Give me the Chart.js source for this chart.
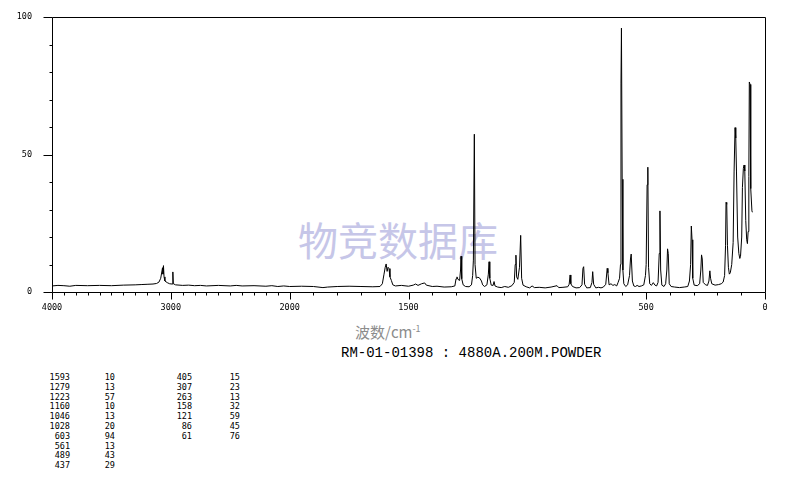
<!DOCTYPE html>
<html>
<head>
<meta charset="utf-8">
<script src="https://cdn.jsdelivr.net/npm/chart.js@4.4.1/dist/chart.umd.min.js"></script>
<style>
  body { margin: 0; background: #fff; }
  #wrap { position: relative; width: 794px; height: 482px; overflow: hidden; }
  #mark { position: absolute; left: 298px; top: 219px; font: 40px "Noto Sans CJK SC"; line-height: 40px; color: #c6c6e8; white-space: nowrap; }
  #chart { position: absolute; left: 0; top: 0; }
  #xtitle { position: absolute; left: 355px; top: 321px; font: 15px "Noto Sans CJK SC"; color: #8c8c8c; white-space: nowrap; }
  #xtitle sup { font-size: 9px; }
  #sample { position: absolute; left: 341px; top: 345px; font: 14px "Liberation Mono"; color: #000; white-space: pre; }
  .col { position: absolute; top: 373px; font: 8.5px "DejaVu Sans Mono"; line-height: 9.8px; text-align: right; white-space: pre; }
</style>
</head>
<body>
<div id="wrap">
  <div id="mark">物竞数据库</div>
  <canvas id="chart" width="794" height="320"></canvas>
  <div id="xtitle">波数/cm<sup>-1</sup></div>
  <div id="sample">RM-01-01398 : 4880A.200M.POWDER</div>
</div>
<script>
// spectrum (cm-1 / relative intensity)
const ramanShift = [
  4000, 3950, 3900, 3850, 3800, 3700, 3600, 3500, 3400, 3300, 3250, 3200, 3150, 3120, 3100,
  3085, 3070, 3066, 3062, 3057, 3050, 3030, 3010, 2990, 2983, 2979, 2960, 2900, 2850, 2800,
  2750, 2700, 2600, 2500, 2450, 2400, 2300, 2200, 2150, 2100, 2050, 2000,
  1950, 1900, 1860, 1840, 1800, 1750, 1700, 1650, 1620, 1610, 1603, 1598, 1594, 1590, 1586,
  1582, 1578, 1572, 1566, 1555, 1530, 1500, 1480, 1470, 1460, 1445, 1432, 1425, 1400, 1380,
  1350, 1320, 1305, 1300, 1296, 1292, 1285, 1281, 1279, 1276, 1270, 1260, 1245, 1235, 1230,
  1227, 1223, 1220, 1215, 1208, 1200, 1193, 1188, 1180, 1170, 1164, 1161, 1158, 1152, 1144,
  1140, 1136, 1125, 1110, 1095, 1080, 1065, 1055, 1051, 1048, 1045, 1040, 1033, 1028, 1024,
  1018, 1005, 990, 980, 970, 950, 925, 900, 875, 868, 850, 830, 824, 820, 817,
  810, 795, 780, 770, 766, 763, 759, 750, 735, 728, 725, 721, 712, 700, 690,
  680, 670, 664, 661, 656, 648, 640, 632, 624, 618, 612, 608, 606, 604, 601,
  598, 594, 586, 578, 570, 566, 563, 558, 552, 545, 538, 530, 520, 510, 503,
  500, 496, 493, 490, 485, 478, 470, 463, 456, 450, 445, 442, 439, 434, 425,
  418, 413, 410, 407, 403, 395, 380, 360, 340, 325, 318, 313, 310, 307, 304,
  298, 285, 275, 270, 267, 264, 260, 250, 242, 236, 232, 229, 224, 210, 195,
  184, 176, 170, 166, 164, 161, 158, 154, 150, 146, 140, 134, 130, 126, 123,
  120, 115, 110, 106, 103, 98, 95, 91, 88, 85, 81, 77, 74, 71, 68,
  66, 63, 61, 59, 55, 53
];
const intensity = [
  2.2, 2.4, 2.3, 2.1, 2.4, 2.3, 2.4, 2.3, 2.5, 2.6, 2.7, 2.8, 2.9, 3.1, 3.6,
  5.0, 8.8, 6.5, 9.6, 5.5, 4.0, 3.4, 3.0, 2.9, 7.3, 3.0, 2.6, 2.4, 2.5, 2.3,
  2.4, 2.2, 2.4, 2.2, 2.4, 2.2, 2.3, 2.1, 2.3, 2.0, 2.2, 2.0,
  2.1, 2.0, 1.6, 1.8, 2.0, 2.1, 2.0, 1.9, 2.0, 3.0, 6.5, 9.0, 10.2, 7.5, 9.0,
  8.5, 5.5, 4.2, 2.6, 2.2, 2.4, 2.1, 2.5, 2.9, 2.4, 3.0, 3.3, 2.5, 2.0, 2.1,
  1.8, 1.9, 2.2, 4.8, 5.5, 4.6, 4.2, 8.0, 13.0, 4.8, 2.6, 2.0, 1.9, 2.6, 6.0,
  11.6, 57.4, 10.0, 5.0, 5.4, 5.0, 4.0, 2.6, 2.0, 2.6, 6.5, 11.0, 5.0, 2.5, 2.4,
  3.8, 2.2, 1.8, 1.6, 2.0, 1.7, 2.3, 3.5, 10.0, 13.4, 5.5, 4.6, 9.0, 20.6, 5.0,
  2.5, 1.9, 1.5, 2.2, 1.6, 1.7, 1.5, 1.8, 2.3, 1.6, 1.7, 1.9, 2.8, 6.2, 3.0,
  2.0, 1.5, 1.6, 2.6, 8.6, 9.2, 2.8, 1.5, 1.6, 3.5, 7.4, 2.8, 1.5, 1.7, 1.5,
  1.8, 2.8, 8.6, 7.0, 2.6, 3.0, 2.4, 2.7, 2.2, 3.5, 5.0, 10.0, 76.0, 96.0, 41.0,
  8.0, 3.0, 2.0, 2.6, 6.0, 12.0, 13.8, 4.0, 2.2, 2.0, 2.4, 2.0, 2.2, 2.6, 6.0,
  10.0, 39.0, 45.4, 9.0, 3.0, 2.4, 3.4, 2.5, 2.2, 3.5, 14.0, 29.5, 8.0, 2.5, 2.0,
  3.0, 8.0, 15.7, 14.0, 3.0, 2.0, 1.8, 1.6, 1.8, 2.0, 4.0, 10.0, 24.0, 19.0, 5.0,
  2.5, 2.3, 3.0, 8.0, 13.5, 12.0, 3.5, 2.6, 2.4, 4.0, 7.7, 5.0, 3.0, 2.5, 2.7,
  3.0, 3.6, 6.0, 17.0, 32.6, 31.9, 17.0, 9.0, 6.5, 7.0, 10.0, 18.0, 44.0, 59.8, 56.0,
  44.0, 20.0, 14.0, 12.2, 13.0, 20.0, 38.0, 45.0, 46.2, 44.0, 26.0, 19.0, 17.6, 22.0, 42.0,
  76.4, 75.5, 55.0, 37.6, 29.5, 29.0
];

// peak table printed under the chart
const peakShift = [1593, 1279, 1223, 1160, 1046, 1028, 603, 561, 489, 437, 405, 307, 263, 158, 121, 86, 61];
const peakIntensity = [10, 13, 57, 10, 13, 20, 94, 13, 43, 29, 15, 23, 13, 32, 59, 45, 76];

const xTickLabels = [4000, 3000, 2000, 1500, 500, 0];
const yTickLabels = [0, 50, 100];

// axis is compressed 2x above 2000 cm-1
const BREAK = 2000;
function toAxis(v) { return v <= BREAK ? v : BREAK + (v - BREAK) / 2; }
function fromAxis(u) { return u <= BREAK ? u : BREAK + (u - BREAK) * 2; }

const points = ramanShift.map((v, i) => ({ x: toAxis(v), y: intensity[i] }));

// frame + tick marks
const framePlugin = {
  id: 'frame',
  afterDraw(chart) {
    const { ctx, chartArea: a, scales: { x, y } } = chart;
    const L = Math.round(a.left) + 0.5, R = Math.round(a.right) + 0.5;
    const T = Math.round(a.top) + 0.5, B = Math.round(a.bottom) + 0.5;
    ctx.save();
    ctx.strokeStyle = '#000';
    ctx.lineWidth = 1;
    ctx.beginPath();
    ctx.rect(L, T, R - L, B - T);
    x.ticks.forEach(t => {
      const px = Math.round(x.getPixelForValue(t.value)) + 0.5;
      ctx.moveTo(px, B);
      ctx.lineTo(px, B + (t.label ? 7 : 3));
    });
    y.ticks.forEach(t => {
      const py = Math.round(y.getPixelForValue(t.value)) + 0.5;
      ctx.moveTo(L, py);
      ctx.lineTo(L - (t.label !== '' ? 9 : 3), py);
    });
    ctx.stroke();
    ctx.restore();
  }
};

new Chart(document.getElementById('chart'), {
  type: 'line',
  data: {
    datasets: [{
      data: points,
      borderColor: '#000',
      borderWidth: 1,
      pointRadius: 0,
      tension: 0,
      fill: false
    }]
  },
  options: {
    responsive: false,
    animation: false,
    layout: { padding: { left: 0, top: 16, right: 29, bottom: 0 } },
    plugins: { legend: { display: false }, tooltip: { enabled: false } },
    scales: {
      x: {
        type: 'linear',
        reverse: true,
        min: 0,
        max: toAxis(4000),
        grid: { display: false },
        border: { display: false },
        afterBuildTicks: s => {
          const t = [];
          for (let v = 0; v <= 4000; v += 100) t.push({ value: toAxis(v) });
          s.ticks = t;
        },
        afterFit: s => { s.height = 28; },
        ticks: {
          autoSkip: false,
          maxRotation: 0,
          padding: 3,
          color: '#000',
          font: { family: 'DejaVu Sans Mono', size: 8.5 },
          callback: u => {
            const v = Math.round(fromAxis(u));
            return xTickLabels.includes(v) ? String(v) : '';
          }
        }
      },
      y: {
        min: 0,
        max: 100,
        grid: { display: false },
        border: { display: false },
        afterFit: s => { s.width = 52; },
        ticks: {
          stepSize: 10,
          autoSkip: false,
          padding: 12,
          color: '#000',
          font: { family: 'DejaVu Sans Mono', size: 8.5 },
          callback: v => yTickLabels.includes(v) ? String(v) : ''
        }
      }
    }
  },
  plugins: [framePlugin]
});

// peak table: two groups of two columns
const wrap = document.getElementById('wrap');
function addCol(lines, right) {
  const d = document.createElement('div');
  d.className = 'col';
  d.style.right = (794 - right) + 'px';
  d.textContent = lines.join('\n');
  wrap.appendChild(d);
}
addCol(peakShift.slice(0, 10), 70);
addCol(peakIntensity.slice(0, 10), 115);
addCol(peakShift.slice(10), 192);
addCol(peakIntensity.slice(10), 240);
</script>
</body>
</html>
